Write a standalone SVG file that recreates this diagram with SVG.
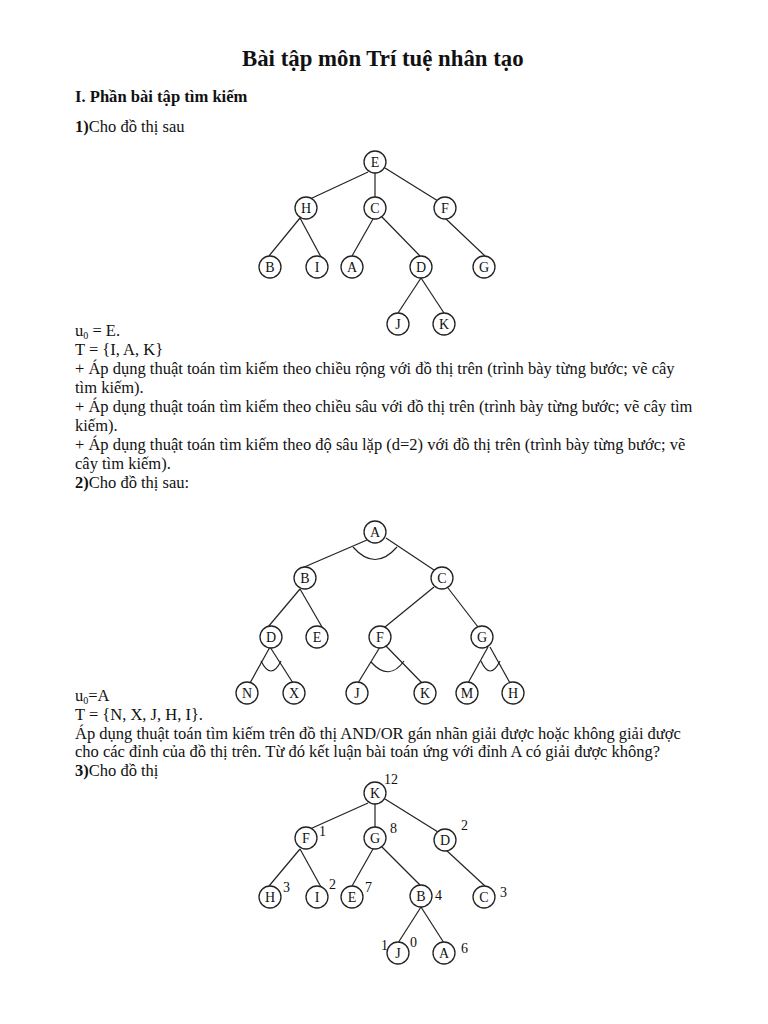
<svg xmlns="http://www.w3.org/2000/svg" width="768" height="1024" viewBox="0 0 768 1024">
<style>
text{font-family:"Liberation Serif","Times New Roman",serif;fill:#111}
.title{font-size:22.8px;font-weight:bold}
.h{font-size:16.6px;font-weight:bold}
.b{font-size:16.5px}
.bold{font-weight:bold}
.lbl{font-size:14px;text-anchor:middle}
.num{font-size:14px}
circle{fill:#fff;stroke:#222;stroke-width:1.3}
.edges line,.edges path{stroke:#222;stroke-width:1.2;fill:none}
</style>
<rect width="768" height="1024" fill="#fff"/>
<text class="title" x="242" y="66">Bài tập môn Trí tuệ nhân tạo</text>
<text class="h" x="75" y="101.5">I. Phần bài tập tìm kiếm</text>
<text class="b" x="75" y="131.5"><tspan class="bold">1)</tspan>Cho đồ thị sau</text>

<g id="graph1">
<g class="edges" id="g1-edges">
<line x1="368" y1="172" x2="310" y2="199"/>
<line x1="375" y1="173" x2="375" y2="197"/>
<line x1="385" y1="168" x2="438" y2="201"/>
<line x1="300" y1="218" x2="269" y2="256"/>
<line x1="300" y1="218" x2="321" y2="257"/>
<line x1="373" y1="219" x2="352" y2="256"/>
<line x1="382" y1="217" x2="420" y2="256"/>
<line x1="446" y1="219" x2="485" y2="256"/>
<line x1="421" y1="278" x2="398" y2="313"/>
<line x1="421" y1="278" x2="444" y2="313"/>
</g>
<g id="g1-E"><circle cx="375" cy="162" r="11"/><text class="lbl" x="375" y="167">E</text></g>
<g id="g1-H"><circle cx="306" cy="208" r="11"/><text class="lbl" x="306" y="213">H</text></g>
<g id="g1-C"><circle cx="375" cy="208" r="11"/><text class="lbl" x="375" y="213">C</text></g>
<g id="g1-F"><circle cx="445" cy="208" r="11"/><text class="lbl" x="445" y="213">F</text></g>
<g id="g1-B"><circle cx="270" cy="267" r="11"/><text class="lbl" x="270" y="272">B</text></g>
<g id="g1-I"><circle cx="317" cy="267" r="11"/><text class="lbl" x="317" y="272">I</text></g>
<g id="g1-A"><circle cx="352" cy="267" r="11"/><text class="lbl" x="352" y="272">A</text></g>
<g id="g1-D"><circle cx="421" cy="267" r="11"/><text class="lbl" x="421" y="272">D</text></g>
<g id="g1-G"><circle cx="484" cy="267" r="11"/><text class="lbl" x="484" y="272">G</text></g>
<g id="g1-J"><circle cx="398" cy="324" r="11"/><text class="lbl" x="398" y="329">J</text></g>
<g id="g1-K"><circle cx="444" cy="324" r="11"/><text class="lbl" x="444" y="329">K</text></g>
</g>

<text class="b" x="75" y="336">u<tspan font-size="10" dy="3">0</tspan><tspan dy="-3"> = E.</tspan></text>
<text class="b" x="75" y="355">T = {I, A, K}</text>
<text class="b" x="75" y="374">+ Áp dụng thuật toán tìm kiếm theo chiều rộng với đồ thị trên (trình bày từng bước; vẽ cây</text>
<text class="b" x="75" y="393">tìm kiếm).</text>
<text class="b" x="75" y="412">+ Áp dụng thuật toán tìm kiếm theo chiều sâu với đồ thị trên (trình bày từng bước; vẽ cây tìm</text>
<text class="b" x="75" y="431">kiếm).</text>
<text class="b" x="75" y="450">+ Áp dụng thuật toán tìm kiếm theo độ sâu lặp (d=2) với đồ thị trên (trình bày từng bước; vẽ</text>
<text class="b" x="75" y="469">cây tìm kiếm).</text>
<text class="b" x="75" y="488"><tspan class="bold">2)</tspan>Cho đồ thị sau:</text>

<g id="graph2">
<g class="edges" id="g2-edges">
<line x1="367" y1="540" x2="302" y2="568"/>
<line x1="386" y1="538" x2="437" y2="572"/>
<path d="M353,547 Q375,572 397,547"/>
<line x1="300" y1="589" x2="268" y2="627"/>
<line x1="300" y1="589" x2="322" y2="627"/>
<line x1="434" y1="587" x2="385" y2="627"/>
<line x1="448" y1="588" x2="478" y2="627"/>
<line x1="270" y1="647" x2="250" y2="683"/>
<line x1="270" y1="647" x2="293" y2="683"/>
<path d="M261,661 Q271,681 281,661"/>
<line x1="380" y1="647" x2="358" y2="683"/>
<line x1="385" y1="645" x2="422" y2="683"/>
<path d="M371,662 Q389,682 404,661"/>
<line x1="488" y1="647" x2="468" y2="683"/>
<line x1="490" y1="647" x2="510" y2="683"/>
<path d="M481,661 Q490,681 500,661"/>
</g>
<g id="g2-A"><circle cx="375" cy="532" r="11"/><text class="lbl" x="375" y="537">A</text></g>
<g id="g2-B"><circle cx="305" cy="578" r="11"/><text class="lbl" x="305" y="583">B</text></g>
<g id="g2-C"><circle cx="442" cy="578" r="11"/><text class="lbl" x="442" y="583">C</text></g>
<g id="g2-D"><circle cx="271" cy="637" r="11"/><text class="lbl" x="271" y="642">D</text></g>
<g id="g2-E"><circle cx="317" cy="637" r="11"/><text class="lbl" x="317" y="642">E</text></g>
<g id="g2-F"><circle cx="380" cy="637" r="11"/><text class="lbl" x="380" y="642">F</text></g>
<g id="g2-G"><circle cx="482" cy="637" r="11"/><text class="lbl" x="482" y="642">G</text></g>
<g id="g2-N"><circle cx="247" cy="693" r="11"/><text class="lbl" x="247" y="698">N</text></g>
<g id="g2-X"><circle cx="294" cy="693" r="11"/><text class="lbl" x="294" y="698">X</text></g>
<g id="g2-J"><circle cx="357" cy="693" r="11"/><text class="lbl" x="357" y="698">J</text></g>
<g id="g2-K"><circle cx="425" cy="693" r="11"/><text class="lbl" x="425" y="698">K</text></g>
<g id="g2-M"><circle cx="467" cy="693" r="11"/><text class="lbl" x="467" y="698">M</text></g>
<g id="g2-H"><circle cx="513" cy="693" r="11"/><text class="lbl" x="513" y="698">H</text></g>
</g>

<text class="b" x="75" y="701">u<tspan font-size="10" dy="3">0</tspan><tspan dy="-3">=A</tspan></text>
<text class="b" x="75" y="720">T = {N, X, J, H, I}.</text>
<text class="b" x="75" y="738.5">Áp dụng thuật toán tìm kiếm trên đồ thị AND/OR gán nhãn giải được hoặc không giải được</text>
<text class="b" x="75" y="757">cho các đỉnh của đồ thị trên. Từ đó kết luận bài toán ứng với đỉnh A có giải được không?</text>
<text class="b" x="75" y="776"><tspan class="bold">3)</tspan>Cho đồ thị</text>

<g id="graph3">
<g class="edges" id="g3-edges">
<line x1="368" y1="803" x2="310" y2="829"/>
<line x1="375" y1="804" x2="375" y2="827"/>
<line x1="385" y1="799" x2="438" y2="832"/>
<line x1="300" y1="849" x2="269" y2="886"/>
<line x1="300" y1="849" x2="321" y2="887"/>
<line x1="373" y1="849" x2="352" y2="886"/>
<line x1="382" y1="847" x2="420" y2="885"/>
<line x1="446" y1="850" x2="485" y2="886"/>
<line x1="421" y1="907" x2="398" y2="943"/>
<line x1="421" y1="907" x2="444" y2="943"/>
</g>
<g id="g3-K"><circle cx="375" cy="793" r="11"/><text class="lbl" x="375" y="798">K</text><text class="num" x="384" y="784">12</text></g>
<g id="g3-F"><circle cx="306" cy="838" r="11"/><text class="lbl" x="306" y="843">F</text><text class="num" x="319" y="836">1</text></g>
<g id="g3-G"><circle cx="375" cy="838" r="11"/><text class="lbl" x="375" y="843">G</text><text class="num" x="390" y="833">8</text></g>
<g id="g3-D"><circle cx="445" cy="840" r="11"/><text class="lbl" x="445" y="845">D</text><text class="num" x="461" y="830">2</text></g>
<g id="g3-H"><circle cx="270" cy="897" r="11"/><text class="lbl" x="270" y="902">H</text><text class="num" x="283" y="892">3</text></g>
<g id="g3-I"><circle cx="317" cy="897" r="11"/><text class="lbl" x="317" y="902">I</text><text class="num" x="329" y="889">2</text></g>
<g id="g3-E"><circle cx="352" cy="897" r="11"/><text class="lbl" x="352" y="902">E</text><text class="num" x="365" y="892">7</text></g>
<g id="g3-B"><circle cx="421" cy="896" r="11"/><text class="lbl" x="421" y="901">B</text><text class="num" x="435" y="900">4</text></g>
<g id="g3-C"><circle cx="484" cy="897" r="11"/><text class="lbl" x="484" y="902">C</text><text class="num" x="500" y="897">3</text></g>
<g id="g3-J"><circle cx="398" cy="953" r="11"/><text class="lbl" x="398" y="958">J</text><text class="num" x="381" y="950">1</text><text class="num" x="410" y="947">0</text></g>
<g id="g3-A"><circle cx="444" cy="953" r="11"/><text class="lbl" x="444" y="958">A</text><text class="num" x="461" y="953">6</text></g>
</g>
</svg>
